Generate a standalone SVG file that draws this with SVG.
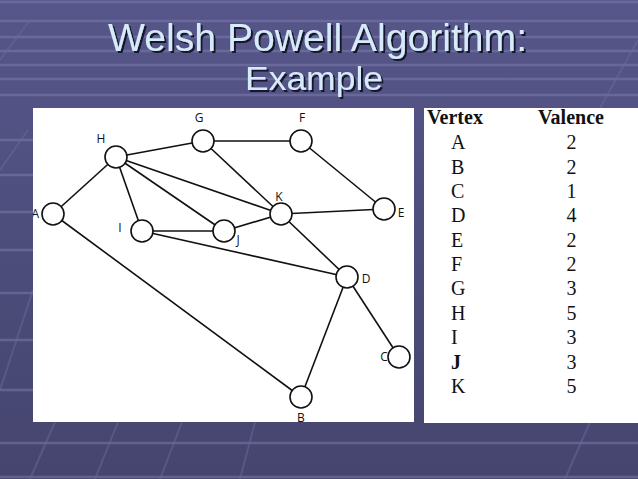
<svg xmlns="http://www.w3.org/2000/svg" width="638" height="479" viewBox="0 0 638 479">
<style>
.bgline{stroke:#7a7aac;stroke-opacity:0.55;stroke-width:2.5}
.slant{stroke:#6a6a9c;stroke-opacity:0.5;stroke-width:2}
.title{font-family:"Liberation Sans",Arial,sans-serif;fill:#d6eafa;filter:url(#shadow)}
.edge{stroke:#111;stroke-width:1.6;fill:none}
.node circle{fill:#fff;stroke:#111;stroke-width:1.6}
.lbl{font-family:"Open Sans","DejaVu Sans",sans-serif;font-size:12px;fill:#111}
.th{font-family:"Liberation Serif","Times New Roman",serif;font-size:20px;font-weight:bold;fill:#111}
.td{font-family:"Liberation Serif","Times New Roman",serif;font-size:20px;fill:#111}
</style>
<defs>
<linearGradient id="bg" x1="0" y1="0" x2="0" y2="1">
<stop offset="0" stop-color="#56568a"/>
<stop offset="1" stop-color="#45456f"/>
</linearGradient>
<filter id="shadow" x="-5%" y="-20%" width="110%" height="140%">
<feDropShadow dx="2" dy="2" stdDeviation="0.3" flood-color="#14142e" flood-opacity="1"/>
</filter>
<clipPath id="panelclip"><rect x="33" y="108" width="381" height="314"/></clipPath>
</defs>
<rect x="0" y="0" width="638" height="479" fill="url(#bg)"/>
<g id="background-grid">
<line class="bgline" x1="0" y1="2" x2="638" y2="2"/>
<line class="bgline" x1="0" y1="21" x2="638" y2="21"/>
<line class="bgline" x1="0" y1="37" x2="638" y2="37"/>
<line class="bgline" x1="0" y1="51" x2="638" y2="51"/>
<line class="bgline" x1="0" y1="65" x2="638" y2="65"/>
<line class="bgline" x1="0" y1="79" x2="638" y2="79"/>
<line class="bgline" x1="0" y1="95" x2="638" y2="95"/>
<line class="bgline" x1="0" y1="140" x2="33" y2="140"/>
<line class="bgline" x1="0" y1="175" x2="33" y2="175"/>
<line class="bgline" x1="0" y1="212" x2="33" y2="212"/>
<line class="bgline" x1="0" y1="250" x2="33" y2="250"/>
<line class="bgline" x1="0" y1="293" x2="33" y2="293"/>
<line class="bgline" x1="0" y1="340" x2="33" y2="340"/>
<line class="bgline" x1="0" y1="390" x2="33" y2="390"/>
<line class="bgline" x1="0" y1="443" x2="638" y2="443"/>
<line class="bgline" x1="0" y1="477" x2="638" y2="477"/>
<line class="slant" x1="0" y1="60" x2="30" y2="20"/>
<line class="slant" x1="0" y1="170" x2="28" y2="130"/>
<line class="slant" x1="0" y1="390" x2="33" y2="290"/>
<line class="slant" x1="30" y1="479" x2="55" y2="422"/>
<line class="slant" x1="95" y1="479" x2="118" y2="422"/>
<line class="slant" x1="160" y1="479" x2="182" y2="422"/>
<line class="slant" x1="240" y1="479" x2="255" y2="422"/>
<line class="slant" x1="565" y1="479" x2="590" y2="422"/>
<line class="slant" x1="600" y1="108" x2="638" y2="40"/>
</g>
<g id="title">
<text class="title" x="317.5" y="51" font-size="38" text-anchor="middle" textLength="419" lengthAdjust="spacingAndGlyphs">Welsh Powell Algorithm:</text>
<text class="title" x="314" y="90" font-size="34" text-anchor="middle" textLength="138" lengthAdjust="spacingAndGlyphs">Example</text>
</g>
<rect id="graph-panel" x="33" y="108" width="381" height="314" fill="#fff"/>
<rect id="table-panel" x="424" y="108" width="214" height="315" fill="#fff"/>
<g id="connectors">
<line class="edge" x1="116" y1="157" x2="203" y2="141"/>
<line class="edge" x1="116" y1="157" x2="53" y2="214"/>
<line class="edge" x1="116" y1="157" x2="142" y2="231"/>
<line class="edge" x1="116" y1="157" x2="224" y2="231"/>
<line class="edge" x1="116" y1="157" x2="281" y2="214"/>
<line class="edge" x1="203" y1="141" x2="301" y2="141"/>
<line class="edge" x1="203" y1="141" x2="281" y2="214"/>
<line class="edge" x1="301" y1="141" x2="384" y2="209"/>
<line class="edge" x1="281" y1="214" x2="384" y2="209"/>
<line class="edge" x1="281" y1="214" x2="224" y2="231"/>
<line class="edge" x1="281" y1="214" x2="347" y2="277"/>
<line class="edge" x1="142" y1="231" x2="224" y2="231"/>
<line class="edge" x1="142" y1="231" x2="347" y2="277"/>
<line class="edge" x1="347" y1="277" x2="301" y2="397"/>
<line class="edge" x1="347" y1="277" x2="399" y2="357"/>
<line class="edge" x1="53" y1="214" x2="301" y2="397"/>
</g>
<g id="node-A" class="node"><circle cx="53" cy="214" r="11"/><text class="lbl" x="39" y="218" text-anchor="end" clip-path="url(#panelclip)">A</text></g>
<g id="node-B" class="node"><circle cx="301" cy="397" r="11"/><text class="lbl" x="301" y="422" text-anchor="middle" clip-path="url(#panelclip)">B</text></g>
<g id="node-C" class="node"><circle cx="399" cy="357" r="11"/><text class="lbl" x="384" y="361" text-anchor="middle">C</text></g>
<g id="node-D" class="node"><circle cx="347" cy="277" r="11"/><text class="lbl" x="366" y="283" text-anchor="middle">D</text></g>
<g id="node-E" class="node"><circle cx="384" cy="209" r="11"/><text class="lbl" x="401" y="217" text-anchor="middle">E</text></g>
<g id="node-F" class="node"><circle cx="301" cy="141" r="11"/><text class="lbl" x="302" y="122" text-anchor="middle">F</text></g>
<g id="node-G" class="node"><circle cx="203" cy="141" r="11"/><text class="lbl" x="199" y="122" text-anchor="middle">G</text></g>
<g id="node-H" class="node"><circle cx="116" cy="157" r="11"/><text class="lbl" x="101" y="143" text-anchor="middle">H</text></g>
<g id="node-I" class="node"><circle cx="142" cy="231" r="11"/><text class="lbl" x="120" y="232" text-anchor="middle">I</text></g>
<g id="node-J" class="node"><circle cx="224" cy="231" r="11"/><text class="lbl" x="238" y="244" text-anchor="middle">J</text></g>
<g id="node-K" class="node"><circle cx="281" cy="214" r="11"/><text class="lbl" x="279" y="201" text-anchor="middle">K</text></g>
<g id="valence-table">
<text class="th" x="427" y="124">Vertex</text>
<text class="th" x="538" y="124">Valence</text>
<g class="td">
<text x="451" y="149.3">A</text><text x="571.5" y="149.3" text-anchor="middle">2</text>
<text x="451" y="173.7">B</text><text x="571.5" y="173.7" text-anchor="middle">2</text>
<text x="451" y="198">C</text><text x="571.5" y="198" text-anchor="middle">1</text>
<text x="451" y="222.4">D</text><text x="571.5" y="222.4" text-anchor="middle">4</text>
<text x="451" y="246.7">E</text><text x="571.5" y="246.7" text-anchor="middle">2</text>
<text x="451" y="271.1">F</text><text x="571.5" y="271.1" text-anchor="middle">2</text>
<text x="451" y="295.4">G</text><text x="571.5" y="295.4" text-anchor="middle">3</text>
<text x="451" y="319.8">H</text><text x="571.5" y="319.8" text-anchor="middle">5</text>
<text x="451" y="344.1">I</text><text x="571.5" y="344.1" text-anchor="middle">3</text>
<text x="451" y="368.5" font-weight="bold">J</text><text x="571.5" y="368.5" text-anchor="middle">3</text>
<text x="451" y="392.8">K</text><text x="571.5" y="392.8" text-anchor="middle">5</text>
</g>
</g>
</svg>
